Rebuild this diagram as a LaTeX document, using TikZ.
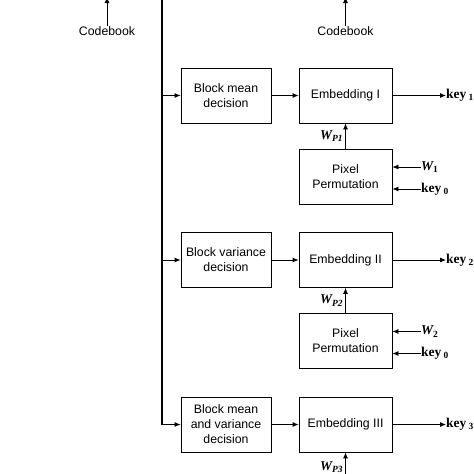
\documentclass[tikz,border=0pt]{standalone}
\usepackage{fontspec}
\setmainfont{Liberation Sans}
\newfontfamily\tmsfont{Liberation Serif}
\usetikzlibrary{arrows.meta}
\usetikzlibrary{positioning}
\tikzstyle{box}=[draw,line width=0.8pt,minimum width=90pt,minimum height=55pt,inner sep=0pt,align=center,font=\fontsize{12.3}{15}\selectfont]
\tikzstyle{plain}=[inner sep=0pt,font=\fontsize{12.3}{15}\selectfont]
\tikzstyle{edge} = [draw,line width=0.8pt,-{Latex[length=6pt,width=5pt]}]
\tikzstyle{trunk} = [draw,line width=1.4pt]
\tikzstyle{keylabel}=[anchor=west,inner sep=0pt,font=\tmsfont\fontsize{13.5}{15}\selectfont\bfseries]
\tikzstyle{wlabel}=[inner sep=2pt,font=\tmsfont\fontsize{13.5}{15}\selectfont\bfseries]

\begin{document}
\begin{tikzpicture}[x=1pt,y=-1pt]
    \useasboundingbox (0,0) rectangle (474,474);
    \clip (0,0) rectangle (474,474);
    % Codebooks on top, arrows running out of the picture
    \node[plain] (cb1) at (107,31) {Codebook};
    \node[plain] (cb2) at (345.5,31) {Codebook};
    \coordinate (cbtop1) at (107,-3);
    \coordinate (cbtop2) at (345.5,-3);
    \draw[edge] (cb1.north) -- (cbtop1);
    \draw[edge] (cb2.north) -- (cbtop2);

    % The three decision / embedding rows
    \foreach \i/\y/\txt/\emb in {1/95.5/{Block mean\\decision}/I, 2/260/{Block variance\\decision}/II, 3/424.5/{Block mean\\and variance\\decision}/III}
    {
        \node[box] (bl\i) at (226,\y) {\txt};
        \node[box,minimum width=93pt] (em\i) at (345.5,\y) {Embedding \emb};
        \node[keylabel] (k\i) at (446,\y) {key\,\textsubscript{\i}};
        \draw[edge] (bl\i) -- (em\i);
        \draw[edge] (em\i) -- (k\i);
    }

    % Pixel permutations feeding the first two embeddings
    \foreach \i/\y in {1/176.5, 2/341}
    {
        \node[box,minimum width=93pt] (px\i) at (345.5,\y) {Pixel\\Permutation};
        \node[keylabel] (w\i) at (421,\y-9.5) {\itshape W\textsubscript{\upshape\i}};
        \node[keylabel] (kz\i) at (421,\y+12.5) {key\,\textsubscript{0}};
        \draw[edge] (w\i) -- (w\i -| px\i.east);
        \draw[edge] (kz\i) -- (kz\i -| px\i.east);
        \draw[edge] (px\i) -- node[wlabel,left] {\itshape W\textsubscript{P\i}} (em\i);
    }
    \coordinate (wp3) at (345.5,482);
    \draw[edge] (wp3) -- node[wlabel,left] {\itshape W\textsubscript{P3}} (em3);

    % Main line with its branches
    \coordinate (trunktop) at (162,-2);
    \draw[trunk] (trunktop) -- (trunktop |- bl3.west);
    \draw[edge] (trunktop |- bl1.west) -- (bl1.west);
    \draw[edge] (trunktop |- bl2.west) -- (bl2.west);
    \draw[edge] (trunktop |- bl3.west) -- (bl3.west);
\end{tikzpicture}
\end{document}
